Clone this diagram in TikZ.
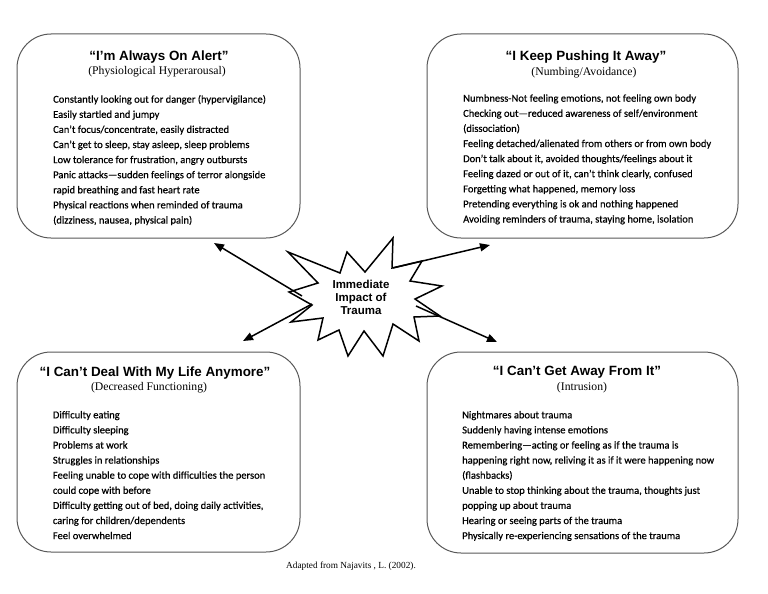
\documentclass[tikz,border=0pt]{standalone}
\usepackage{fontspec}
\setmainfont{Liberation Serif}
\newfontfamily\ttlfont{Liberation Sans}
\newfontfamily\bodyfont[FakeBold=0.5]{Carlito}
\usetikzlibrary{arrows.meta}
\begin{document}
\begin{tikzpicture}[x=1pt,y=-1pt,
  box/.style={draw=black!65, line width=1pt, rounded corners=34pt, inner sep=0, outer sep=0},
  ttl/.style={font=\ttlfont\bfseries\fontsize{13.4}{16}\selectfont, inner sep=0},
  sub/.style={font=\fontsize{11.7}{14}\selectfont, inner sep=0},
  bodytxt/.style={font=\bodyfont\fontsize{10.5}{15.1}\selectfont, inner sep=0, anchor=base west},
  startxt/.style={font=\ttlfont\bfseries\fontsize{11.5}{13.3}\selectfont, inner sep=0, align=center},
  starline/.style={draw=black, line width=1.5pt, line join=miter, fill=white},
  arr/.style={draw=black, line width=1.5pt, -{Triangle[length=10pt,width=8pt]}},
  foot/.style={font=\fontsize{9.3}{11}\selectfont, inner sep=0}
]
\useasboundingbox[fill=white] (0,0) rectangle (768,594);

% boxes
\node[box, minimum width=283pt, minimum height=204pt] (tl) at (158.5,136) {};
\node[box, minimum width=311pt, minimum height=204pt] (tr) at (582.5,136) {};
\node[box, minimum width=283pt, minimum height=200pt] (bl) at (158.5,452) {};
\node[box, minimum width=311pt, minimum height=201pt] (br) at (582.5,452.5) {};

% top left
\node[ttl, anchor=base] (tlT) at (159,60) {“I’m Always On Alert”};
\node[sub, anchor=base] (tlS) at (157,74.5) {(Physiological Hyperarousal)};
\node[bodytxt] (tlB) at (53,102.7) {\parbox[t]{300pt}{%
Constantly looking out for danger (hypervigilance)\\
Easily startled and jumpy\\
Can’t focus/concentrate, easily distracted\\
Can’t get to sleep, stay asleep, sleep problems\\
Low tolerance for frustration, angry outbursts\\
Panic attacks—sudden feelings of terror alongside\\
rapid breathing and fast heart rate\\
Physical reactions when reminded of trauma\\
(dizziness, nausea, physical pain)}};

% top right
\node[ttl, anchor=base] (trT) at (586,61) {“I Keep Pushing It Away”};
\node[sub, anchor=base] (trS) at (584,75) {(Numbing/Avoidance)};
\node[bodytxt] (trB) at (463,101.7) {\parbox[t]{320pt}{%
Numbness-Not feeling emotions, not feeling own body\\
Checking out—reduced awareness of self/environment\\
(dissociation)\\
Feeling detached/alienated from others or from own body\\
Don’t talk about it, avoided thoughts/feelings about it\\
Feeling dazed or out of it, can’t think clearly, confused\\
Forgetting what happened, memory loss\\
Pretending everything is ok and nothing happened\\
Avoiding reminders of trauma, staying home, isolation}};

% bottom left
\node[ttl, anchor=base] (blT) at (155,376.7) {“I Can’t Deal With My Life Anymore”};
\node[sub, anchor=base] (blS) at (149,390.7) {(Decreased Functioning)};
\node[bodytxt] (blB) at (52.7,418.3) {\parbox[t]{300pt}{%
Difficulty eating\\
Difficulty sleeping\\
Problems at work\\
Struggles in relationships\\
Feeling unable to cope with difficulties the person\\
could cope with before\\
Difficulty getting out of bed, doing daily activities,\\
caring for children/dependents\\
Feel overwhelmed}};

% bottom right
\node[ttl, anchor=base] (brT) at (577,375.5) {“I Can’t Get Away From It”};
\node[sub, anchor=base] (brS) at (582,390) {(Intrusion)};
\node[bodytxt] (brB) at (462,418.3) {\parbox[t]{320pt}{%
Nightmares about trauma\\
Suddenly having intense emotions\\
Remembering—acting or feeling as if the trauma is\\
happening right now, reliving it as if it were happening now\\
(flashbacks)\\
Unable to stop thinking about the trauma, thoughts just\\
popping up about trauma\\
Hearing or seeing parts of the trauma\\
Physically re-experiencing sensations of the trauma}};

% star
\draw[starline] (288,252) -- (340,273) -- (347,252) -- (365,272) -- (393,238)
  -- (392,268) -- (422,261) -- (410,281) -- (442,286) -- (415,299)
  -- (440,316) -- (414,317) -- (419,341) -- (393,324) -- (383,356)
  -- (364,331) -- (348,356) -- (339,330) -- (318,340) -- (323,318)
  -- (291,322) -- (312,305) -- (289,292) -- (318,283) -- cycle;

% connectors
\coordinate (t1) at (302,296);
\coordinate (h1) at (214,243);
\coordinate (t2) at (312,304);
\coordinate (h2) at (243,341);
\coordinate (t3) at (393,268);
\coordinate (h3) at (490,245);
\coordinate (t4) at (416,306);
\coordinate (h4) at (497,342);
\draw[arr] (t1) -- (h1);
\draw[arr] (t2) -- (h2);
\draw[arr] (t3) -- (h3);
\draw[arr] (t4) -- (h4);

\node[startxt] (impact) at (361,297.5) {Immediate\\Impact of\\Trauma};

\node[foot, anchor=base] (src) at (351,568) {Adapted from Najavits , L. (2002).};
\end{tikzpicture}
\end{document}
